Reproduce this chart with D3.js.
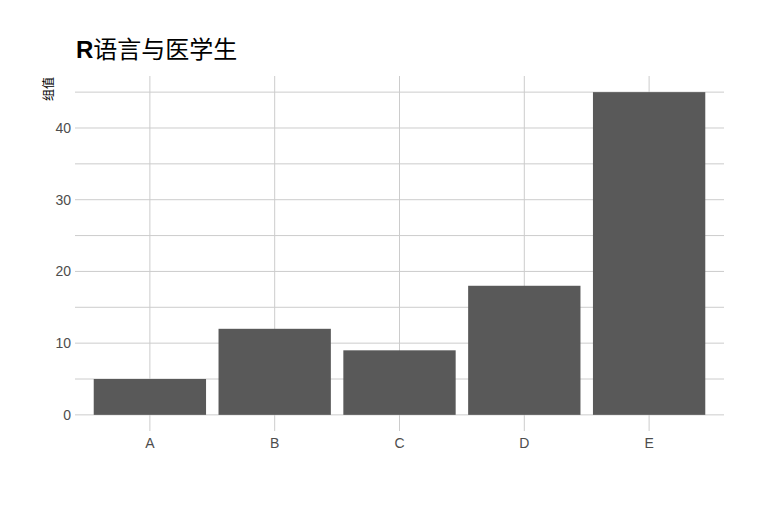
<!DOCTYPE html>
<html lang="zh">
<head>
    <meta charset="UTF-8">
    <title>R语言与医学生</title>
    <script src="https://d3js.org/d3.v7.min.js"></script>
    <style>
        body { margin: 0; background: #fff; }
        svg { display: block; font-family: "Liberation Sans", Arial, "Noto Sans CJK SC", sans-serif; }
        .grid line { stroke: #cccccc; stroke-width: 1; }
        .tick-label { fill: #4d4d4d; font-size: 14px; }
    </style>
</head>
<body>
<svg width="764" height="506"></svg>
<script>
    // data
    const categories = ["A", "B", "C", "D", "E"];
    const values = [5, 12, 9, 18, 45];
    const yTicks = [0, 10, 20, 30, 40];
    const yMinor = [5, 15, 25, 35, 45];

    // panel
    const panel = {left: 75, right: 724, top: 76, bottom: 431};
    const svg = d3.select("svg");

    // y scale with ggplot-like 5% expansion
    const yMax = d3.max(values);
    const pad = yMax * 0.05;
    const y = d3.scaleLinear()
        .domain([-pad, yMax + pad])
        .range([panel.bottom, panel.top]);

    // x band with 0.6 unit expansion each side, bar width 0.9
    const step = (panel.right - panel.left) / (categories.length + 0.2);
    const x = d3.scaleBand()
        .domain(categories)
        .range([panel.left + 0.1 * step, panel.right - 0.1 * step])
        .paddingInner(0.1)
        .paddingOuter(0.05);

    const grid = svg.append("g").attr("class", "grid");

    // horizontal grid lines (major + minor)
    grid.selectAll(".h")
        .data(yTicks.concat(yMinor))
        .join("line")
        .attr("x1", panel.left).attr("x2", panel.right)
        .attr("y1", d => y(d)).attr("y2", d => y(d));

    // vertical grid lines at category centres
    grid.selectAll(".v")
        .data(categories)
        .join("line")
        .attr("x1", d => x(d) + x.bandwidth() / 2)
        .attr("x2", d => x(d) + x.bandwidth() / 2)
        .attr("y1", panel.top).attr("y2", panel.bottom);

    // bars
    svg.selectAll(".bar")
        .data(categories)
        .join("rect")
        .attr("class", "bar")
        .attr("fill", "#595959")
        .attr("x", d => x(d))
        .attr("width", x.bandwidth())
        .attr("y", (d, i) => y(values[i]))
        .attr("height", (d, i) => y(0) - y(values[i]));

    // y tick labels
    svg.selectAll(".ylab")
        .data(yTicks)
        .join("text")
        .attr("class", "tick-label")
        .attr("x", 71)
        .attr("y", d => y(d))
        .attr("dy", "0.35em")
        .attr("text-anchor", "end")
        .text(d => d);

    // x tick labels
    svg.selectAll(".xlab")
        .data(categories)
        .join("text")
        .attr("class", "tick-label")
        .attr("x", d => x(d) + x.bandwidth() / 2)
        .attr("y", 448)
        .attr("text-anchor", "middle")
        .text(d => d);

    // y axis title
    svg.append("text")
        .attr("transform", "translate(53,77) rotate(-90)")
        .attr("text-anchor", "end")
        .style("font-size", "12px")
        .style("font-family", "'Noto Sans CJK SC', sans-serif")
        .attr("fill", "#000")
        .text("组值");

    // title
    svg.append("text")
        .attr("x", 76)
        .attr("y", 58)
        .style("font-size", "24px")
        .attr("fill", "#000")
        .html('<tspan font-weight="bold">R</tspan><tspan font-family="Noto Sans CJK SC">语言与医学生</tspan>');
</script>
</body>
</html>
